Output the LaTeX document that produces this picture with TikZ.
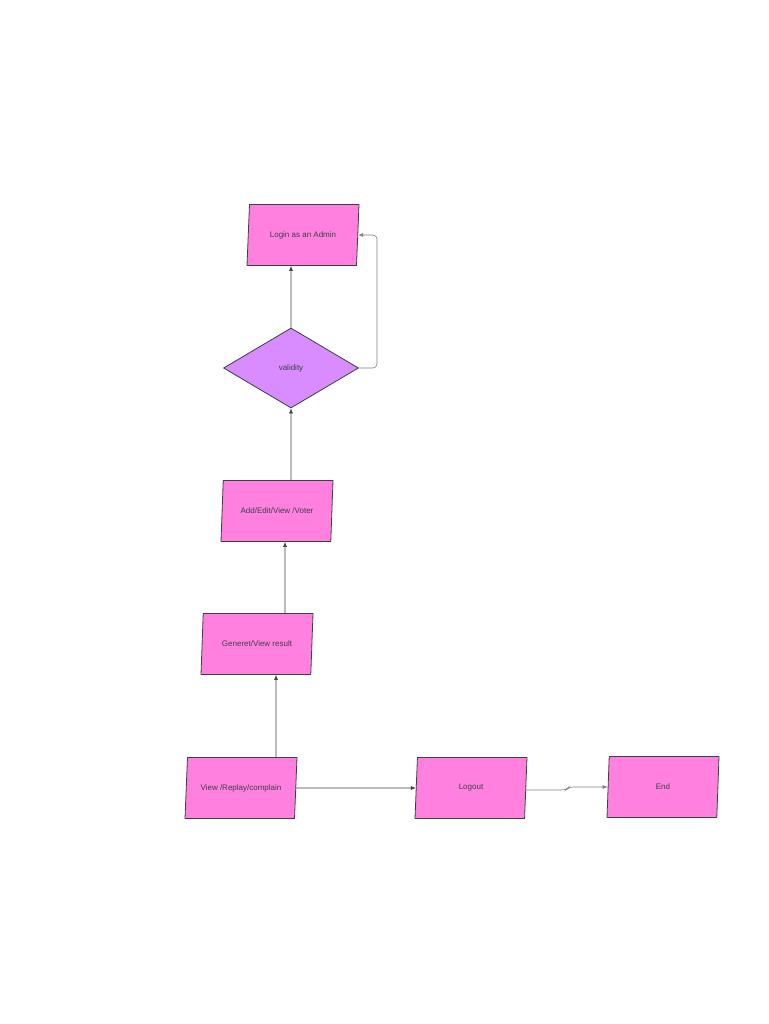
\documentclass[tikz,border=0pt]{standalone}
\usepackage{fontspec}
\setmainfont{Liberation Sans}
\usetikzlibrary{shapes.geometric,arrows.meta}
\definecolor{boxpink}{HTML}{FF80DF}
\definecolor{boxpurple}{HTML}{D98CFF}
\definecolor{lineDark}{HTML}{3A4048}
\begin{document}
\begin{tikzpicture}
[
  x=1pt, y=-1pt,
  io box/.style={trapezium, trapezium left angle=80, trapezium right angle=100,
    trapezium stretches body, draw=lineDark, fill=boxpink, line width=0.8pt,
    minimum width=112pt, minimum height=61pt, font=\fontsize{8}{10}\selectfont, text=lineDark},
  check/.style={diamond, draw=lineDark, fill=boxpurple, line width=0.8pt,
    minimum width=135pt, minimum height=80pt, aspect=1.7, inner sep=0pt,
    font=\fontsize{8}{10}\selectfont, text=lineDark},
  flow/.style={-{Latex[length=5pt,width=4pt]}, draw=lineDark, line width=0.6pt},
  back/.style={-{Latex[length=5pt,width=4pt]}, draw=gray, line width=0.6pt, rounded corners=4pt}
]
\useasboundingbox (0,0) rectangle (768,1024);
\node (login) [io box] at (303,235) {Login as an Admin};
\node (valid) [check] at (291,368) {validity};
\node (voter) [io box] at (277,511) {Add/Edit/View /Voter};
\node (result) [io box] at (257,644) {Generet/View result};
\node (view) [io box] at (241,788) {View /Replay/complain};
\node (logout) [io box] at (471,788) {Logout};
\node (end) [io box] at (663,787) {End};

% upward chain
\draw [flow] ([xshift=35pt]view.north) -- ([xshift=19pt]result.south);
\draw [flow] ([xshift=28pt]result.north) -- ([xshift=8pt]voter.south);
\draw [flow] ([xshift=14pt]voter.north) -- (valid.south);
\draw [flow] (valid.north) -- ([xshift=-12pt]login.south);
\draw [back] (valid.east) -- (377,368) -- (377,235) -- (login.east);
% bottom row
\draw [flow] (view.east) -- (logout.west);
\draw [back] ([yshift=-2pt]logout.east) -- (566,790) -- (569,787) -- (end.west);
\end{tikzpicture}
\end{document}
